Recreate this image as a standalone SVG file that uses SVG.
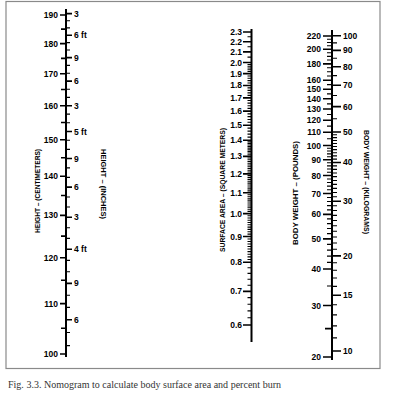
<svg xmlns="http://www.w3.org/2000/svg" width="400" height="396" viewBox="0 0 400 396">
<style>
.ax{stroke:#000;stroke-width:2;fill:none}
.tk{stroke:#000;stroke-width:1.6;fill:none}
.tm{stroke:#000;stroke-width:1.1;fill:none}
.n{font-family:"Liberation Sans Narrow","Liberation Sans",Arial,sans-serif;font-weight:bold;font-size:8.5px;fill:#000}
.e{text-anchor:end}
.t{font-family:"Liberation Sans Narrow","Liberation Sans",Arial,sans-serif;font-weight:bold;font-size:7px;fill:#000;text-anchor:middle}
</style>
<rect width="400" height="396" fill="#fff"/>
<rect id="frame" x="6" y="1.5" width="374" height="367" fill="none" stroke="#8a8a8a" stroke-width="1.2"/>
<g id="connectors"/>
<g id="height-scale">
<path class="ax" d="M66,9V357"/>
<path class="tk" d="M60,15h6M60,43.6h6M60,73.7h6M60,105.8h6M60,139.8h6M60,176.3h6M60,215.4h6M60,257.7h6M60,303.6h6M60,354h6M61,29.1h5M61,58.4h5M61,89.5h5M61,122.5h5M61,157.7h5M61,195.5h5M61,236.1h5M61,280.2h5M61,328.2h5M66,13.6h6M66,35.2h6M66,57.6h6M66,81.1h6M66,105.7h6M66,131.5h6M66,158.5h6M66,187.1h6M66,217.3h6M66,249.3h6M66,283.4h6M66,319.8h6"/>
<path class="tm" d="M66,20.7h4M66,27.9h4M66,42.6h4M66,50h4M66,65.4h4M66,73.2h4M66,89.2h4M66,97.4h4M66,114.1h4M66,122.7h4M66,140.3h4M66,149.4h4M66,167.9h4M66,177.4h4M66,197h4M66,207h4M66,227.7h4M66,238.4h4M66,260.4h4M66,271.8h4M66,295.2h4M66,307.4h4M66,332.5h4M66,345.6h4"/>
<g class="n e">
<text x="58" y="18">190</text><text x="58" y="46.6">180</text><text x="58" y="76.7">170</text><text x="58" y="108.8">160</text><text x="58" y="142.8">150</text><text x="58" y="179.3">140</text><text x="58" y="218.4">130</text><text x="58" y="260.7">120</text><text x="58" y="306.6">110</text><text x="58" y="357">100</text>
</g>
<g class="n">
<text x="74" y="16.6">3</text><text x="74" y="38.2">6 ft</text><text x="74" y="60.6">9</text><text x="74" y="84.1">6</text><text x="74" y="108.7">3</text><text x="74" y="134.5">5 ft</text><text x="74" y="161.5">9</text><text x="74" y="190.1">6</text><text x="74" y="220.3">3</text><text x="74" y="252.3">4 ft</text><text x="74" y="286.4">9</text><text x="74" y="322.8">6</text>
</g>
<text class="t" transform="translate(37,191) rotate(-90)" x="0" y="2.5" textLength="84" lengthAdjust="spacingAndGlyphs">HEIGHT – (CENTIMETERS)</text>
<text class="t" transform="translate(103,184) rotate(90)" x="0" y="2.5" textLength="70" lengthAdjust="spacingAndGlyphs">HEIGHT – (INCHES)</text>
</g>
<g id="surface-area-scale">
<path class="ax" d="M251.5,29V342"/>
<path class="tk" d="M243,32h8M243,41.69h8M243,51.83h8M243,62.47h8M243,73.65h8M243,85.44h8M243,97.9h8M243,111.12h8M243,125.19h8M243,140.23h8M243,156.39h8M243,173.84h8M243,192.81h8M243,213.59h8M243,236.56h8M243,262.24h8M243,291.35h8M243,324.96h8"/>
<path class="tm" d="M247.5,317.81h4M247.5,310.89h4M247.5,304.18h4M247.5,297.67h4M247.5,285.21h4M247.5,279.24h4M247.5,273.42h4M247.5,267.76h4M247.5,259.53h4M247.5,256.86h4M247.5,254.21h4M247.5,251.6h4M247.5,249.02h4M247.5,246.47h4M247.5,243.95h4M247.5,241.46h4M247.5,239h4M247.5,234.15h4M247.5,231.77h4M247.5,229.41h4M247.5,227.08h4M247.5,224.77h4M247.5,222.49h4M247.5,220.23h4M247.5,217.99h4M247.5,215.78h4M247.5,211.42h4M247.5,209.27h4M247.5,207.15h4M247.5,205.04h4M247.5,202.95h4M247.5,200.89h4M247.5,198.84h4M247.5,196.81h4M247.5,194.8h4M247.5,190.84h4M247.5,188.88h4M247.5,186.94h4M247.5,185.02h4M247.5,183.12h4M247.5,181.23h4M247.5,179.36h4M247.5,177.51h4M247.5,175.67h4M247.5,172.03h4M247.5,170.24h4M247.5,168.46h4M247.5,166.69h4M247.5,164.94h4M247.5,163.2h4M247.5,161.48h4M247.5,159.77h4M247.5,158.07h4M247.5,154.72h4M247.5,153.06h4M247.5,151.42h4M247.5,149.78h4M247.5,148.16h4M247.5,146.55h4M247.5,144.96h4M247.5,143.37h4M247.5,141.8h4M247.5,137.14h4M247.5,134.09h4M247.5,131.08h4M247.5,128.12h4M247.5,122.3h4M247.5,119.45h4M247.5,116.64h4M247.5,113.86h4M247.5,108.41h4M247.5,105.74h4M247.5,103.1h4M247.5,100.48h4M247.5,95.36h4M247.5,92.83h4M247.5,90.34h4M247.5,87.88h4M247.5,83.03h4M247.5,80.65h4M247.5,78.29h4M247.5,75.96h4M247.5,71.37h4M247.5,69.11h4M247.5,66.88h4M247.5,64.66h4M247.5,57.09h4M247.5,46.71h4M247.5,36.79h4"/>
<g class="n e">
<text x="242" y="35">2.3</text><text x="242" y="44.7">2.2</text><text x="242" y="54.8">2.1</text><text x="242" y="65.5">2.0</text><text x="242" y="76.7">1.9</text><text x="242" y="88.4">1.8</text><text x="242" y="100.9">1.7</text><text x="242" y="114.1">1.6</text><text x="242" y="128.2">1.5</text><text x="242" y="143.2">1.4</text><text x="242" y="159.4">1.3</text><text x="242" y="176.8">1.2</text><text x="242" y="195.8">1.1</text><text x="242" y="216.6">1.0</text><text x="242" y="239.6">0.9</text><text x="242" y="265.2">0.8</text><text x="242" y="294.4">0.7</text><text x="242" y="328">0.6</text>
</g>
<text class="t" transform="translate(222,190) rotate(-90)" x="0" y="2.5" textLength="124" lengthAdjust="spacingAndGlyphs">SURFACE AREA – (SQUARE METERS)</text>
</g>
<g id="weight-scale">
<path class="ax" d="M332,30V360"/>
<path class="tk" d="M323,36h9M323,49.24h9M323,63.87h9M323,80.23h9M323,89.19h9M323,98.78h9M323,109.07h9M323,120.18h9M323,132.27h9M323,145.51h9M323,159.7h9M323,175.57h9M323,193.57h9M323,214.34h9M323,238.91h9M323,268.98h9M323,305.52h9M323,357h9M325,328.66h7M332,35.71h9M332,50.34h9M332,66.7h9M332,85.25h9M332,106.66h9M332,131.98h9M332,162.44h9M332,201.21h9M332,255.85h9M332,295.3h9M332,351h9"/>
<path class="tm" d="M327,39.19h5M327,42.46h5M327,45.81h5M327,52.75h5M327,56.36h5M327,60.07h5M327,67.78h5M327,71.81h5M327,75.96h5M327,84.64h5M327,93.9h5M327,103.83h5M327,114.52h5M327,126.1h5M327,138.73h5M327,148.22h5M327,151h5M327,153.84h5M327,156.74h5M327,162.73h5M327,165.83h5M327,169h5M327,172.24h5M327,178.98h5M327,182.48h5M327,186.08h5M327,189.77h5M327,197.47h5M327,201.5h5M327,205.64h5M327,209.92h5M327,218.91h5M327,223.64h5M327,228.54h5M327,233.62h5M327,244.41h5M327,250.15h5M327,256.14h5M327,262.41h5M327,285.95h5M332,42.83h5M332,58.28h5M332,75.66h5M332,95.54h5M332,118.74h5M332,134.78h5M332,137.65h5M332,140.57h5M332,143.56h5M332,146.57h5M332,149.6h5M332,152.7h5M332,155.87h5M332,159.12h5M332,165.86h5M332,169.36h5M332,172.95h5M332,176.64h5M332,180.44h5M332,184.35h5M332,188.37h5M332,192.52h5M332,196.79h5M332,205.78h5M332,210.51h5M332,215.41h5M332,220.5h5M332,225.78h5M332,231.28h5M332,237.02h5M332,243.01h5M332,249.28h5M332,262.8h5M332,270.2h5M332,278h5M332,286.4h5M332,304.7h5M332,314.9h5M332,325.9h5M332,337.9h5"/>
<g class="n e">
<text x="321" y="39">220</text><text x="321" y="52.2">200</text><text x="321" y="66.9">180</text><text x="321" y="83.2">160</text><text x="321" y="92.2">150</text><text x="321" y="101.8">140</text><text x="321" y="112.1">130</text><text x="321" y="123.2">120</text><text x="321" y="135.3">110</text><text x="321" y="148.5">100</text><text x="321" y="162.7">90</text><text x="321" y="178.6">80</text><text x="321" y="196.6">70</text><text x="321" y="217.3">60</text><text x="321" y="241.9">50</text><text x="321" y="272">40</text><text x="321" y="308.5">30</text><text x="321" y="360">20</text>
</g>
<g class="n">
<text x="343" y="38.7">100</text><text x="343" y="53.3">90</text><text x="343" y="69.7">80</text><text x="343" y="88.3">70</text><text x="343" y="109.7">60</text><text x="343" y="135">50</text><text x="343" y="165.4">40</text><text x="343" y="204.2">30</text><text x="343" y="258.9">20</text><text x="343" y="298.3">15</text><text x="343" y="354">10</text>
</g>
<text class="t" transform="translate(295,193) rotate(-90)" x="0" y="2.5" textLength="104" lengthAdjust="spacingAndGlyphs">BODY WEIGHT – (POUNDS)</text>
<text class="t" transform="translate(366,182) rotate(90)" x="0" y="2.5" textLength="104" lengthAdjust="spacingAndGlyphs">BODY WEIGHT – (KILOGRAMS)</text>
</g>
<text id="caption" x="8" y="388" font-family="'Liberation Serif','Times New Roman',serif" font-size="9.5" fill="#333" textLength="273" lengthAdjust="spacingAndGlyphs">Fig. 3.3. Nomogram to calculate body surface area and percent burn</text>
</svg>
